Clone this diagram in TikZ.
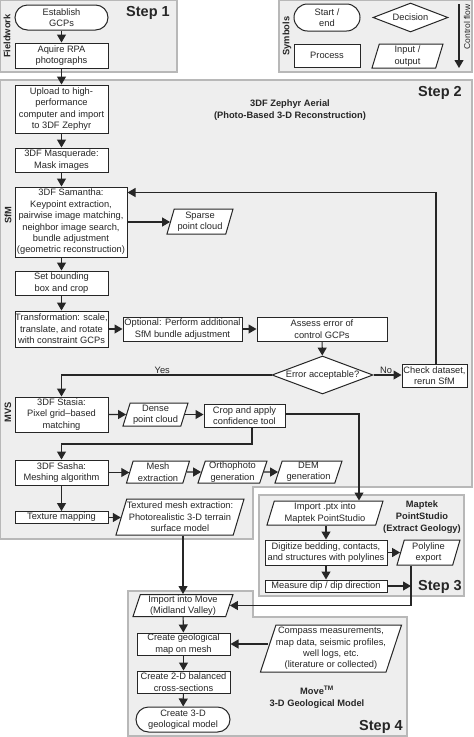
\documentclass[tikz,border=0pt]{standalone}
\usepackage{fontspec}
\setmainfont{Liberation Sans}
\usetikzlibrary{arrows.meta,shapes.geometric,shapes.misc,calc}
\definecolor{panelfill}{HTML}{EEEEEE}
\definecolor{paneldraw}{HTML}{B8B8B8}
\definecolor{ink}{HTML}{262626}
\begin{document}
\begin{tikzpicture}[x=1pt,y=-1pt,
  font=\fontsize{9.3}{11.4}\selectfont,
  panel/.style={fill=panelfill,draw=paneldraw,line width=1.8pt},
  base/.style={draw=ink,line width=1pt,fill=white,inner sep=0pt,align=center,text=ink},
  proc/.style={base,rectangle},
  term/.style={base,rounded rectangle},
  io/.style={base,trapezium,trapezium left angle=70,trapezium right angle=110,trapezium stretches body},
  dec/.style={base,diamond},
  arr/.style={draw=ink,line width=1.1pt,-{Triangle[length=8pt,width=9pt]}},
  steplbl/.style={font=\fontsize{14.5}{15}\selectfont\bfseries,text=ink,inner sep=0pt},
  sidelbl/.style={font=\fontsize{9.3}{10}\selectfont\bfseries,rotate=90,inner sep=0pt,text=ink},
  titlelbl/.style={font=\fontsize{9.3}{11.8}\selectfont\bfseries,align=center,inner sep=0pt,text=ink},
  edgelbl/.style={inner sep=1pt,text=ink},
]
\useasboundingbox (0,0) rectangle (474,737);
% panels
\draw[panel] (0,0) rectangle (177,72);
\draw[panel] (279,0) rectangle (472,72);
\draw[panel] (0,80) -- (472,80) -- (472,487) -- (253,487) -- (253,539) -- (0,539) -- cycle;
\draw[panel] (259,495) rectangle (464,596);
\draw[panel] (128,591) -- (253,591) -- (253,617) -- (407,617) -- (407,736) -- (128,736) -- cycle;
% panel labels
\node[steplbl] (s1) at (148,13) {Step 1};
\node[sidelbl] (fw) at (7,36) {Fieldwork};
\node[sidelbl] (sy) at (287,36) {Symbols};
\node[sidelbl] (sfm) at (8,215) {SfM};
\node[sidelbl] (mvs) at (8,412) {MVS};
\node[steplbl] (s2) at (440,93) {Step 2};
\node[titlelbl] (t2) at (290,110) {3DF Zephyr Aerial\\(Photo-Based 3-D Reconstruction)};
\node[titlelbl] (t3) at (422,517) {Maptek\\PointStudio\\(Extract Geology)};
\node[steplbl] (s3) at (440,587) {Step 3};
\node[titlelbl] (t4) at (317,697) {Move\textsuperscript{TM}\\3-D Geological Model};
\node[steplbl] (s4) at (381,727) {Step 4};
% symbols
\node[term,minimum width=66pt,minimum height=27pt] (sym1) at (327,17.5) {Start /\\end};
\node[dec,shape aspect=2.6,minimum width=75pt,minimum height=29pt] (sym2) at (410.5,17.5) {Decision};
\node[proc,minimum width=66pt,minimum height=23pt] (sym3) at (327,55.5) {Process};
\node[io,minimum width=71pt,minimum height=24pt] (sym4) at (407.5,56) {Input /\\output};
\coordinate (cf1) at (459,4);
\coordinate (cf2) at (459,68);
\draw[arr] (cf1) -- (cf2);
\node[rotate=90,inner sep=0pt,text=ink,font=\fontsize{8.5}{10}\selectfont] (cfl) at (467,27) {Control flow};
% step 1
\node[term,minimum width=93pt,minimum height=25pt] (est) at (61.5,17.5) {Establish\\GCPs};
\node[proc,minimum width=93pt,minimum height=25pt] (aq) at (61.5,55.5) {Aquire RPA\\photographs};
% step 2
\node[proc,minimum width=93pt,minimum height=48pt] (up) at (61.5,109) {Upload to high-\\performance\\computer and import\\to 3DF Zephyr};
\node[proc,minimum width=93pt,minimum height=24pt] (masq) at (61.5,160) {3DF Masquerade:\\Mask images};
\node[proc,minimum width=112pt,minimum height=70pt] (sam) at (71,222) {3DF Samantha:\\Keypoint extraction,\\pairwise image matching,\\neighbor image search,\\bundle adjustment\\(geometric reconstruction)};
\node[io,minimum width=66pt,minimum height=25pt] (sparse) at (200,221.5) {Sparse\\point cloud};
\node[proc,minimum width=93pt,minimum height=24pt] (bb) at (61.5,283) {Set bounding\\box and crop};
\node[proc,minimum width=93pt,minimum height=36pt] (tr) at (61.5,329) {Transformation: scale,\\translate, and rotate\\with constraint GCPs};
\node[proc,minimum width=119pt,minimum height=24pt] (opt) at (182.5,329) {Optional: Perform additional\\SfM bundle adjustment};
\node[proc,minimum width=130pt,minimum height=24pt] (ass) at (322,329) {Assess error of\\control GCPs};
\node[dec,shape aspect=2.66,minimum width=101pt,minimum height=38pt] (err) at (322.5,375) {Error acceptable?};
\node[proc,minimum width=65pt,minimum height=23pt] (chk) at (434.5,375.5) {Check dataset,\\rerun SfM};
\node[proc,minimum width=93pt,minimum height=35pt] (sta) at (61.5,414.5) {3DF Stasia:\\Pixel grid--based\\matching};
\node[io,minimum width=65pt,minimum height=23pt] (dense) at (155.5,414.5) {Dense\\point cloud};
\node[proc,minimum width=81pt,minimum height=23pt] (crop) at (244.5,415.5) {Crop and apply\\confidence tool};
\node[proc,minimum width=93pt,minimum height=25pt] (sas) at (61.5,472.5) {3DF Sasha:\\Meshing algorithm};
\node[io,minimum width=63pt,minimum height=22pt] (mesh) at (158,472) {Mesh\\extraction};
\node[io,minimum width=69pt,minimum height=22pt] (orth) at (232.5,472) {Orthophoto\\generation};
\node[io,minimum width=67pt,minimum height=22pt] (dem) at (308.5,472) {DEM\\generation};
\node[proc,minimum width=93pt,minimum height=12pt] (tex) at (61.5,517.5) {Texture mapping};
\node[io,minimum width=122pt,minimum height=36pt] (txm) at (180,517) {Textured mesh extraction:\\Photorealistic 3-D terrain\\surface model};
% step 3
\node[io,minimum width=116pt,minimum height=24pt] (ptx) at (325,513) {Import .ptx into\\Maptek PointStudio};
\node[proc,minimum width=122pt,minimum height=25pt] (dig) at (326,552.5) {Digitize bedding, contacts,\\and structures with polylines};
\node[io,minimum width=63pt,minimum height=25pt] (pol) at (428.5,552.5) {Polyline\\export};
\node[proc,minimum width=122pt,minimum height=12pt] (mea) at (326,586) {Measure dip / dip direction};
% step 4
\node[io,minimum width=100pt,minimum height=22pt] (imv) at (183,605.5) {Import into Move\\(Midland Valley)};
\node[proc,minimum width=93pt,minimum height=22pt] (map) at (183.5,644) {Create geological\\map on mesh};
\node[io,minimum width=132pt,minimum height=47pt] (cmp) at (331,648.5) {Compass measurements,\\map data, seismic profiles,\\well logs, etc.\\(literature or collected)};
\node[proc,minimum width=93pt,minimum height=22pt] (xs) at (183.5,682) {Create 2-D balanced\\cross-sections};
\node[term,minimum width=94pt,minimum height=25pt] (m3d) at (183,719.5) {Create 3-D\\geological model};
% connectors
\draw[arr] (est) -- (aq);
\draw[arr] (aq) -- (up);
\draw[arr] (up) -- (masq);
\draw[arr] (masq.south) -- (masq.south |- sam.north);
\draw[arr] (sam.east) -- (sam.east -| sparse.west);
\draw[arr] (bb.north |- sam.south) -- (bb.north);
\draw[arr] (bb) -- (tr);
\draw[arr] (tr) -- (opt);
\draw[arr] (opt) -- (ass);
\draw[arr] (ass) -- (err);
\draw[arr] (err.east) -- node[edgelbl,above,pos=0.45] {No} (err.east -| chk.west);
\draw[arr] ([xshift=1.5pt]chk.north) |- ([yshift=-6pt]sam.north east);
\draw[arr] (err.west) -| node[edgelbl,above,pos=0.26] {Yes} (sta.north);
\draw[arr] (sta) -- (dense);
\draw[arr] (dense.east) -- (dense.east -| crop.west);
\draw[arr] ([xshift=7.5pt]crop.south) -- ++(0,16.5) -| (sas.north);
\draw[arr] ([yshift=1.5pt]crop.east) -| ([xshift=34pt]ptx.north);
\draw[arr] (sas.east) -- (sas.east -| mesh.west);
\draw[arr] (mesh) -- (orth);
\draw[arr] (orth) -- (dem);
\draw[arr] (sas) -- (tex);
\draw[arr] (tex.east) -- (tex.east -| txm.west);
\draw[arr] (imv.north |- txm.south) -- (imv.north);
\draw[arr] (dig.north |- ptx.south) -- (dig.north);
\draw[arr] (dig) -- (mea);
\draw[arr] (dig.east) -- (dig.east -| pol.west);
\coordinate (plx) at ([xshift=-17.5pt]pol.south);
\draw[arr] (plx) |- (imv.east);
\draw[arr] (mea.east) -- (mea.east -| plx);
\draw[arr] (imv) -- (map);
\draw[arr] (map.east -| cmp.west) -- (map.east);
\draw[arr] (map) -- (xs);
\draw[arr] (xs) -- (m3d);
\end{tikzpicture}
\end{document}
